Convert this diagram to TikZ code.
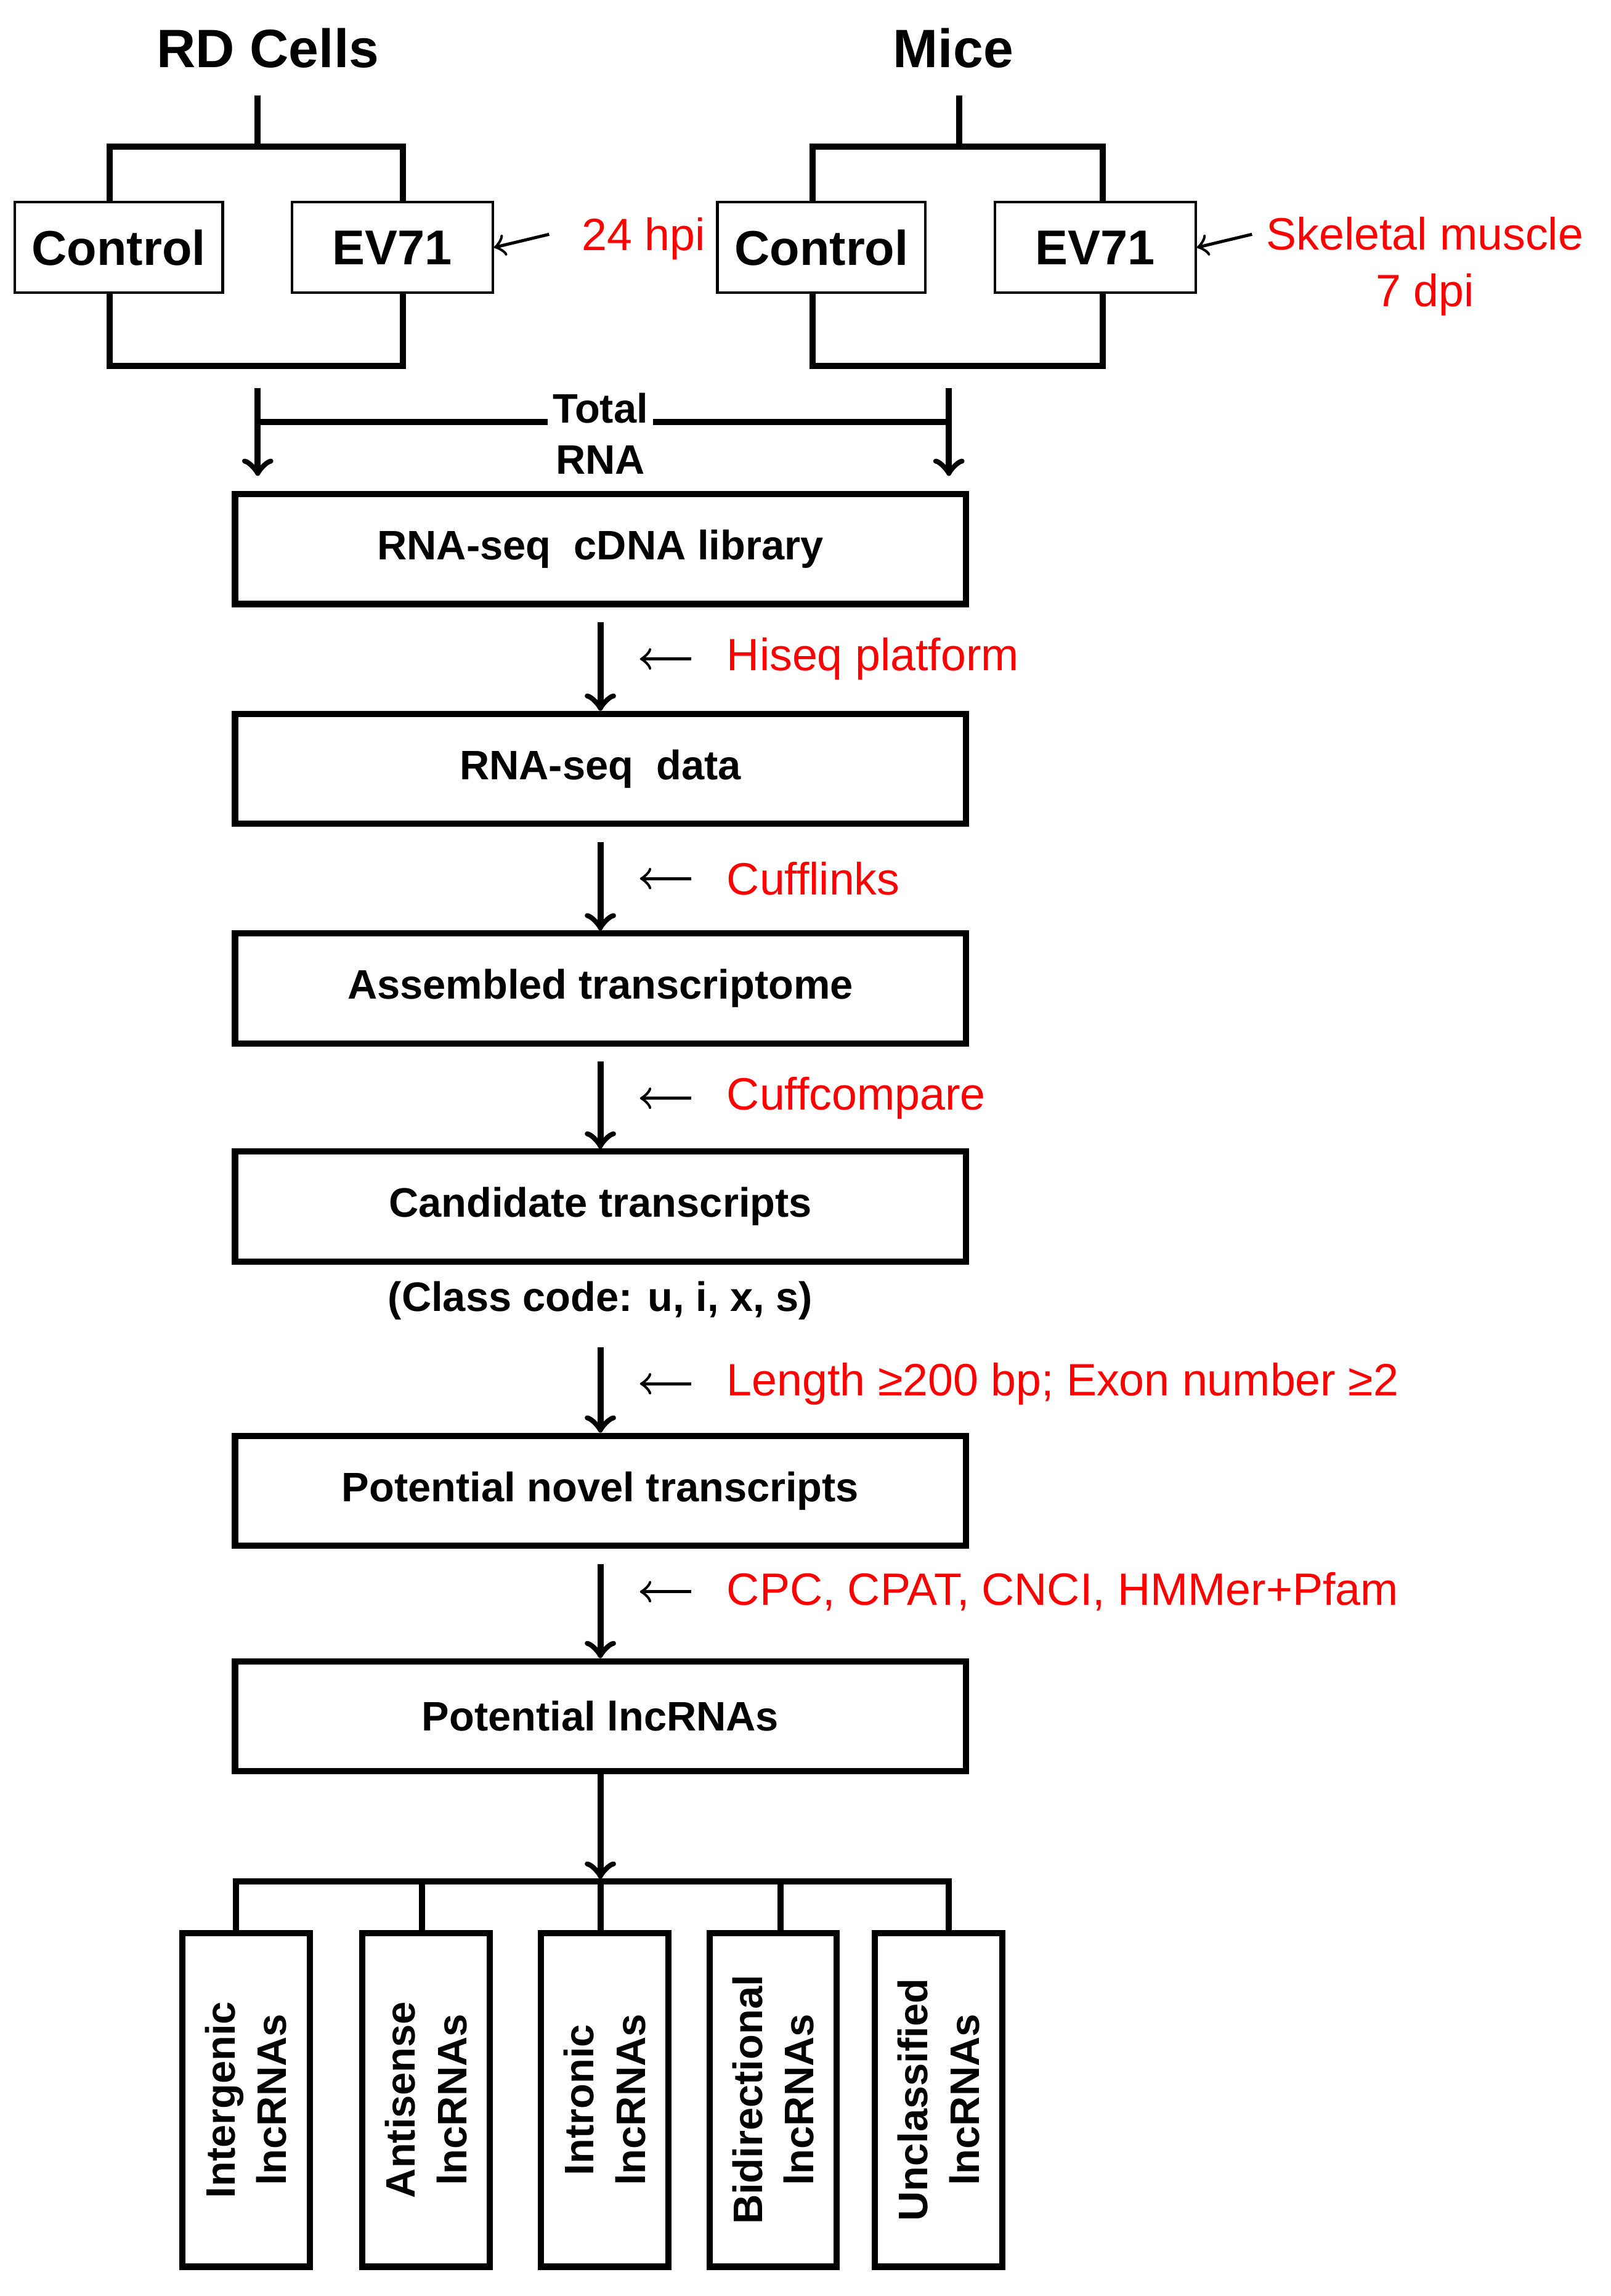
\documentclass[tikz,border=0pt]{standalone}
\usepackage{fontspec}
\setmainfont{Liberation Sans}
\usetikzlibrary{arrows}
\begin{document}
\begin{tikzpicture}[x=0.1mm,y=-0.1mm]
 \tikzstyle{every node}=[font=\bfseries\fontsize{8pt}{10pt}\selectfont]
 \tikzstyle{box} = [draw,line width=1.2pt,minimum width=49.9mm,minimum height=7.5mm]
 \tikzstyle{sbox} = [draw,line width=0.5pt,minimum width=13.7mm,minimum height=6.2mm,font=\bfseries\fontsize{9.5pt}{11pt}\selectfont]
 \tikzstyle{vbox} = [draw,line width=1.2pt,minimum width=22.8mm,minimum height=8.7mm,rotate=90,align=center]
 \tikzstyle{red} = [text=red,font=\fontsize{8.8pt}{11pt}\selectfont]
 \tikzstyle{l} = [draw,->,line width=1.2pt]
 \tikzstyle{s} = [draw,->,line width=0.6pt]
 \tikzstyle{b} = [draw,line width=1.2pt]
 \useasboundingbox (0,0) rectangle (1100,1568);
 % samples
 \node[font=\bfseries\fontsize{10.5pt}{12pt}\selectfont] (RD) at (183,33) {RD Cells};
 \node[font=\bfseries\fontsize{10.5pt}{12pt}\selectfont] (Mice) at (651,33) {Mice};
 \node[sbox] (C1) at (81,169) {Control};
 \node[sbox] (E1) at (268,169) {EV71};
 \node[sbox] (C2) at (561,169) {Control};
 \node[sbox] (E2) at (748,169) {EV71};
 \path [b] (176,65) -- (176,100) (75,138) |- (275,100) -- (275,138);
 \path [b] (655,65) -- (655,100) (555,138) |- (753,100) -- (753,138);
 \path [b] (75,200) |- (275,250) -- (275,200);
 \path [b] (555,200) |- (753,250) -- (753,200);
 \node[red,anchor=west] (hpi) at (385,163) {24 hpi};
 \node[red,align=center] (SM) at (973,182) {Skeletal muscle\\7 dpi};
 \path [s] (375,160) -- (E1.east);
 \path [s] (855,160) -- (E2.east);
 % total RNA
 \coordinate (T1) at (176,265);
 \coordinate (T2) at (648,265);
 \path [b] (176,288) -- (648,288);
 \node[fill=white,align=center,inner sep=1pt] (Total) at (410,296) {Total\\RNA};
 % pipeline
 \node[box] (Lib) at (410,375) {RNA-seq\ \ cDNA library};
 \node[box] (Data) at (410,525) {RNA-seq\ \ data};
 \node[box] (Asm) at (410,675) {Assembled transcriptome};
 \node[box] (Cand) at (410,824) {Candidate transcripts};
 \node (Code) at (410,888) {(Class code: u, i, x, s)};
 \node[box] (Novel) at (410,1018) {Potential novel transcripts};
 \node[box] (Lnc) at (410,1172) {Potential lncRNAs};
 \path [l] (T1) -- (176,325);
 \path [l] (T2) -- (648,325);
 \path [l] (410,425) -- (Data);
 \path [l] (410,575) -- (Asm);
 \path [l] (410,725) -- (Cand);
 \path [l] (410,920) -- (Novel);
 \path [l] (410,1068) -- (Lnc);
 \path [l] (Lnc) -- (410,1283);
 % tools
 \foreach \y/\t in {450/Hiseq platform,600/Cufflinks,750/Cuffcompare,945/Length ≥200 bp; Exon number ≥2,1087/{CPC, CPAT, CNCI, HMMer+Pfam}}{
  \path [s] (472,\y) -- (437,\y);
  \node[red,anchor=west] at (484,\y) {\t};
 }
 % classes
 \path [b] (161,1320) |- (648,1285) -- (648,1320);
 \node[vbox] (Inter) at (168,1434) {Intergenic\\lncRNAs};
 \node[vbox] (Anti) at (291,1434) {Antisense\\lncRNAs};
 \node[vbox] (Intro) at (413,1434) {Intronic\\lncRNAs};
 \node[vbox] (Bidi) at (528,1434) {Bidirectional\\lncRNAs};
 \node[vbox] (Uncl) at (641,1434) {Unclassified\\lncRNAs};
 \path [b] (288,1285) -- (288,1320);
 \path [b] (410,1285) -- (410,1320);
 \path [b] (533,1285) -- (533,1320);
\end{tikzpicture}
\end{document}
